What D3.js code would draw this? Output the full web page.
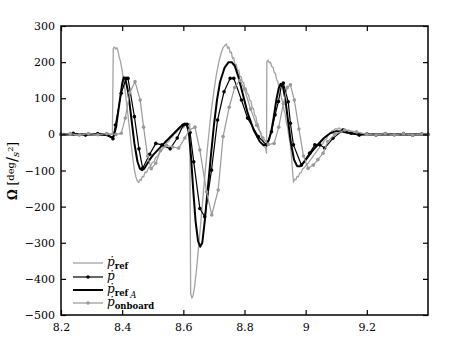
<!DOCTYPE html>
<html>
<head>
<meta charset="utf-8">
<script src="https://cdn.jsdelivr.net/npm/d3@7"></script>
<style>
body { margin: 0; background: #fff; }
svg { display: block; }
.tk text { font-family: "DejaVu Serif", serif; font-size: 11px; fill: #000; }
.tk line { stroke: #000; stroke-width: 1.2; }
</style>
</head>
<body>
<script>
var w = 474;
var h = 355;

// x ticks and y ticks
var xTicks = [8.2, 8.4, 8.6, 8.8, 9, 9.2];
var xTickLabels = ["8.2", "8.4", "8.6", "8.8", "9", "9.2"];
var yTicks = [-500, -400, -300, -200, -100, 0, 100, 200, 300];

// p_ref (grey, no markers)
var refT = [8.20,8.21,8.22,8.23,8.24,8.25,8.26,8.27,8.28,8.29,8.30,8.31,8.32,8.33,8.34,8.35,8.36,8.368,
  8.371,8.375,8.379,8.383,8.387,8.391,8.395,8.40,8.405,8.41,8.415,8.42,8.425,8.43,8.435,8.44,8.445,8.45,8.454,8.458,8.462,8.466,8.47,8.475,8.48,8.486,8.492,8.498,8.504,8.51,8.516,8.522,8.528,8.534,8.54,8.546,8.552,8.558,8.564,8.57,8.576,8.582,8.588,8.594,8.60,8.606,8.612,8.618,8.621,
  8.624,8.628,8.632,8.637,8.643,8.65,8.657,8.664,8.671,8.678,8.685,8.692,8.70,8.708,8.716,8.724,8.73,8.736,8.741,8.745,8.749,8.753,8.757,8.761,8.765,8.769,8.773,8.777,8.781,8.785,8.789,8.793,8.797,8.801,8.805,8.809,8.813,8.817,8.821,8.825,8.829,8.833,8.837,8.841,8.845,8.849,8.853,8.857,8.861,8.865,8.869,8.872,
  8.873,8.877,8.881,8.885,8.889,8.893,8.897,8.901,8.905,8.909,8.913,8.917,8.921,8.925,8.929,8.933,8.937,8.941,8.945,8.949,8.953,8.957,8.960,8.964,8.968,8.972,8.976,8.98,8.985,8.99,8.996,9.002,9.008,9.014,9.02,9.026,9.032,9.038,9.044,9.05,9.056,9.062,9.068,9.074,9.08,9.086,9.092,9.098,9.104,9.11,9.116,9.122,9.13,9.14,9.15,9.16,9.17,9.18,9.19,9.20,9.21,9.22,9.23,9.24,9.25,9.26,9.27,9.28,9.29,9.30,9.31,9.32,9.33,9.34,9.35,9.36,9.37,9.38,9.39,9.40];
var refV = [0,3,-2,2,-3,3,-2,2,-3,3,-1,2,-3,3,-2,2,-2,1,
  238,242,236,240,228,212,200,176,148,118,82,45,8,-32,-68,-98,-118,-130,-133,-124,-128,-116,-118,-104,-106,-92,-90,-78,-76,-64,-60,-50,-46,-36,-32,-22,-20,-10,-8,2,4,12,14,20,18,26,24,30,28,
  -440,-453,-446,-420,-375,-310,-245,-175,-108,-45,15,70,120,165,200,226,240,246,250,238,242,226,228,210,212,192,194,176,178,160,160,144,144,128,128,112,110,94,92,74,72,54,50,32,28,10,6,-12,-16,-34,-38,-52,
  200,206,198,200,188,186,172,168,152,146,128,120,100,90,68,56,32,20,-6,-22,-56,-100,-132,-124,-126,-116,-118,-108,-106,-96,-92,-84,-80,-72,-66,-58,-52,-44,-38,-30,-26,-16,-12,-2,2,10,12,16,14,18,12,16,10,12,5,7,2,4,-1,2,-2,2,-2,1,-2,2,-2,2,-1,2,-2,2,-2,1,-2,2,-1,2,-2,0];

// p (black, markers)
var pT = [8.20,8.24,8.28,8.32,8.35,8.37,8.378,8.397,8.413,8.419,8.44,8.455,8.467,8.49,8.51,8.53,8.557,8.58,8.60,8.612,8.622,8.634,8.654,8.67,8.692,8.712,8.733,8.753,8.765,8.79,8.81,8.845,8.872,8.888,8.90,8.911,8.921,8.927,8.943,8.95,8.96,8.986,9.013,9.03,9.046,9.062,9.089,9.122,9.149,9.175,9.20,9.23,9.26,9.29,9.32,9.35,9.38,9.40];
var pV = [0,3,-2,2,0,-12,26,114,155,155,49,-40,-94,-55,-25,-29,-40,-10,26,28,5,-76,-205,-228,-99,40,118,155,155,95,45,-6,-29,7,54,91,137,142,90,31,-29,-85,-52,-29,-29,-38,-11,12,3,-2,1,-2,2,-1,2,-2,1,0];

// p_ref_A (black, thick)
var aT = [8.20,8.30,8.35,8.365,8.372,8.38,8.39,8.40,8.405,8.41,8.42,8.43,8.44,8.45,8.458,8.465,8.472,8.48,8.49,8.50,8.52,8.54,8.56,8.58,8.595,8.605,8.612,8.618,8.625,8.632,8.64,8.648,8.655,8.662,8.67,8.68,8.69,8.70,8.71,8.72,8.735,8.748,8.758,8.768,8.78,8.795,8.81,8.83,8.85,8.862,8.872,8.88,8.888,8.896,8.904,8.912,8.918,8.925,8.933,8.942,8.952,8.962,8.972,8.982,8.992,9.005,9.02,9.04,9.06,9.08,9.10,9.12,9.14,9.17,9.20,9.40];
var aV = [0,0,-2,-8,-6,20,80,140,158,155,115,45,-25,-75,-95,-99,-95,-84,-70,-58,-40,-22,-5,12,25,30,24,5,-60,-150,-240,-295,-311,-300,-240,-150,-60,25,95,145,185,200,200,190,160,110,60,12,-20,-30,-28,-15,10,50,95,128,140,135,100,40,-25,-70,-88,-88,-80,-65,-48,-28,-10,3,9,8,4,0,0,0];

// p_onboard (grey, markers)
var oT = [8.20,8.23,8.26,8.29,8.32,8.35,8.38,8.397,8.41,8.425,8.442,8.459,8.47,8.483,8.495,8.51,8.525,8.545,8.565,8.585,8.605,8.62,8.638,8.654,8.676,8.693,8.714,8.73,8.75,8.768,8.785,8.80,8.82,8.84,8.86,8.878,8.897,8.912,8.927,8.94,8.95,8.963,8.978,8.993,9.008,9.025,9.04,9.057,9.072,9.095,9.128,9.166,9.20,9.23,9.26,9.29,9.32,9.35,9.38,9.40];
var oV = [0,2,-2,2,-1,2,0,3,45,115,146,95,20,-60,-95,-80,-45,-30,-35,-38,-10,12,20,-43,-159,-223,-154,-6,75,130,150,125,70,25,-10,-28,-25,20,85,130,137,95,15,-60,-94,-85,-70,-52,-20,0,12,7,0,-2,2,-1,2,-2,1,0];

var svg = d3.select("body")
  .append("svg")
    .attr("width", w)
    .attr("height", h);

var x = d3.scaleLinear().domain([8.2, 9.4]).range([61, 428]);
var y = d3.scaleLinear().domain([-500, 300]).range([315, 26]);

var line = d3.line()
  .x(function(d) { return x(d[0]); })
  .y(function(d) { return y(d[1]); });

function pairs(t, v) {
  return t.map(function(d, i) { return [d, v[i]]; });
}

var series = [
  {name: "ref", data: pairs(refT, refV), color: "#a3a3a3", width: 1.3, marker: false},
  {name: "p", data: pairs(pT, pV), color: "#000", width: 1.2, marker: true},
  {name: "refA", data: pairs(aT, aV), color: "#000", width: 2, marker: false},
  {name: "onboard", data: pairs(oT, oV), color: "#999", width: 1.2, marker: true}
];

var plot = svg.append("g");
series.forEach(function(s) {
  plot.append("path")
    .datum(s.data)
    .attr("fill", "none")
    .attr("stroke", s.color)
    .attr("stroke-width", s.width)
    .attr("stroke-linejoin", "round")
    .attr("d", line);
  if (s.marker) {
    plot.selectAll(null)
      .data(s.data)
      .enter()
      .append("circle")
      .attr("cx", function(d) { return x(d[0]); })
      .attr("cy", function(d) { return y(d[1]); })
      .attr("r", 1.8)
      .attr("fill", s.color);
  }
});

//axes, ticks pointing in
svg.append("g").attr("class", "tk")
  .attr("transform", "translate(0,315)")
  .call(d3.axisBottom(x).tickValues(xTicks).tickSize(-5).tickSizeOuter(0).tickPadding(8)
    .tickFormat(function(d, i) { return xTickLabels[i]; }))
  .call(function(g) { g.select(".domain").remove(); });
svg.append("g").attr("class", "tk")
  .attr("transform", "translate(0,26)")
  .call(d3.axisTop(x).tickValues(xTicks).tickSize(-5).tickSizeOuter(0).tickFormat(""))
  .call(function(g) { g.select(".domain").remove(); });
svg.append("g").attr("class", "tk")
  .attr("transform", "translate(61,0)")
  .call(d3.axisLeft(y).tickValues(yTicks).tickSize(-5).tickSizeOuter(0).tickPadding(6)
    .tickFormat(d3.format("d")))
  .call(function(g) { g.select(".domain").remove(); });
svg.append("g").attr("class", "tk")
  .attr("transform", "translate(428,0)")
  .call(d3.axisRight(y).tickValues(yTicks).tickSize(-5).tickSizeOuter(0).tickFormat(""))
  .call(function(g) { g.select(".domain").remove(); });

svg.append("rect")
  .attr("x", 61).attr("y", 26)
  .attr("width", 367).attr("height", 289)
  .attr("fill", "none")
  .attr("stroke", "#000")
  .attr("stroke-width", 1.5);

// y label
var yl = svg.append("text")
  .attr("transform", "translate(17,171) rotate(-90)")
  .attr("text-anchor", "middle")
  .style("font-family", "DejaVu Serif, serif")
  .style("font-size", "12px");
yl.append("tspan").style("font-weight", "bold").text("\u03A9\u0307");
yl.append("tspan").text(" [");
yl.append("tspan").attr("dy", -3).style("font-size", "10px").text("deg");
yl.append("tspan").attr("dy", 3).style("font-size", "15px").text("/");
yl.append("tspan").attr("dy", 2).style("font-style", "italic").style("font-size", "10px").text("s");
yl.append("tspan").attr("dy", -6).style("font-size", "8px").text("2");
yl.append("tspan").attr("dy", 4).text("]");

// legend
var legY = [263, 277, 290, 303];
var leg = svg.append("g");
series.forEach(function(s, i) {
  leg.append("line")
    .attr("x1", 73).attr("x2", 103)
    .attr("y1", legY[i]).attr("y2", legY[i])
    .attr("stroke", s.color)
    .attr("stroke-width", s.width);
  if (s.marker) {
    leg.append("circle").attr("cx", 88).attr("cy", legY[i]).attr("r", 1.8).attr("fill", s.color);
  }
  var t = leg.append("text")
    .attr("x", 107).attr("y", legY[i] + 3)
    .style("font-family", "DejaVu Serif, serif")
    .style("font-size", "12px");
  t.append("tspan").style("font-style", "italic").text("\u1E57");
  if (s.name == "ref" || s.name == "refA") {
    t.append("tspan").attr("dy", 3).style("font-size", "8.5px").style("font-weight", "bold").text("ref");
    if (s.name == "refA") {
      t.append("tspan").attr("dx", 2).attr("dy", 1.5).style("font-size", "8.5px").style("font-style", "italic").text("A");
    }
  }
  if (s.name == "onboard") {
    t.append("tspan").attr("dy", 3).style("font-size", "8.5px").style("font-weight", "bold").text("onboard");
  }
});
</script>
</body>
</html>
